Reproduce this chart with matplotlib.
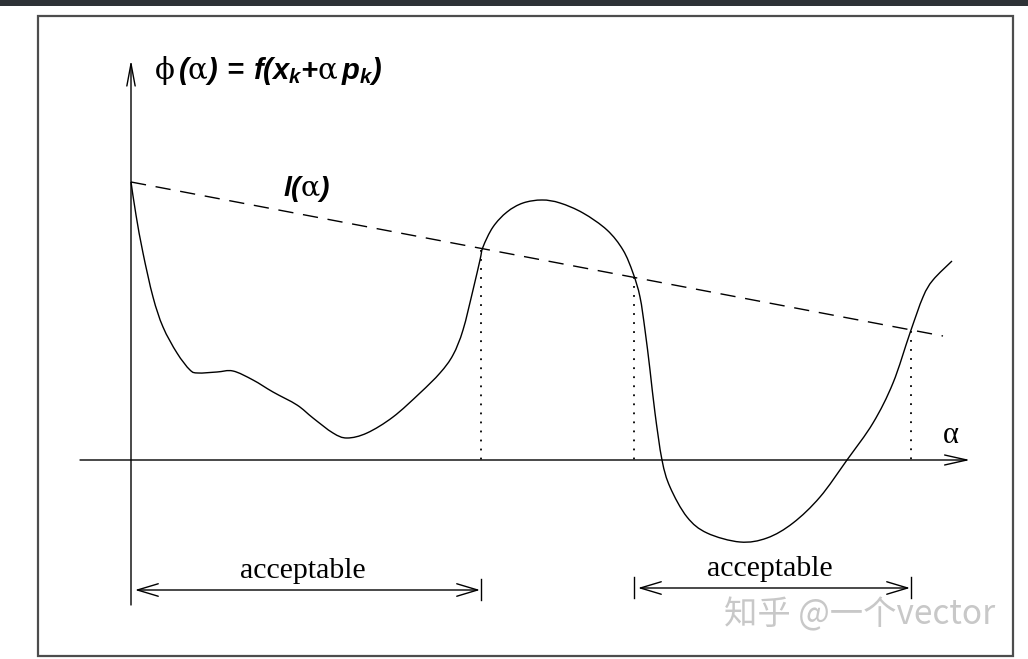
import matplotlib
matplotlib.use("Agg")
import matplotlib.pyplot as plt
from matplotlib.patches import Rectangle, PathPatch
from matplotlib.path import Path

# line-search sketch, everything in picture pixel units (x right, y down)
curve_x = [131, 136, 143, 153, 163, 177, 190, 198, 217, 233, 253, 273, 297, 313, 333, 347,
           367, 393, 420, 440, 453, 463, 473, 480, 483, 493, 507, 523, 542, 560, 583, 607,
           623, 633, 640, 645, 650, 655, 662, 670, 687, 707, 740, 767, 793, 820, 847, 873,
           893, 910, 923, 933, 952]
curve_y = [182, 215, 253, 297, 327, 353, 370, 373, 372, 371, 380, 392, 405, 418, 433, 438,
           433, 417, 393, 373, 355, 330, 290, 260, 247, 227, 212, 203, 200, 203, 213, 230,
           250, 273, 297, 330, 370, 413, 460, 487, 517, 533, 542, 538, 523, 497, 460, 423,
           383, 333, 297, 280, 261]

line_x = [131, 943]          # l(alpha), dashed
line_y = [182, 336]
cross_x = [481, 634, 911]    # where curve meets l(alpha)
cross_y = [250, 277, 331]
axis_y = 460
origin_x = 131
intervals = [(131, 481, 590), (634, 911, 588)]
interval_label = "acceptable"


def smooth_path(xs, ys):
    # draw a smooth curve through the read points (Catmull-Rom as cubic Bezier)
    pts = list(zip(xs, ys))
    verts = [pts[0]]
    codes = [Path.MOVETO]
    for i in range(len(pts) - 1):
        p0 = pts[i - 1] if i > 0 else pts[i]
        p1 = pts[i]
        p2 = pts[i + 1]
        p3 = pts[i + 2] if i + 2 < len(pts) else pts[i + 1]
        c1 = (p1[0] + (p2[0] - p0[0]) / 6, p1[1] + (p2[1] - p0[1]) / 6)
        c2 = (p2[0] - (p3[0] - p1[0]) / 6, p2[1] - (p3[1] - p1[1]) / 6)
        verts += [c1, c2, p2]
        codes += [Path.CURVE4] * 3
    return Path(verts, codes)


fig = plt.figure(figsize=(10.28, 6.59), dpi=100)
ax = fig.add_axes([0, 0, 1, 1])
ax.set_xlim(0, 1028)
ax.set_ylim(659, 0)
ax.axis("off")

# top dark strip and the frame
ax.add_patch(Rectangle((0, 0), 1028, 6, color="#2e3236", lw=0))
ax.add_patch(Rectangle((38, 16), 975, 640, fill=False, ec="#4d4d4d", lw=1.6))

# axes
ax.annotate("", xy=(970, axis_y), xytext=(80, axis_y),
            arrowprops=dict(arrowstyle="->,head_length=1.6,head_width=0.36", lw=1.0,
                            color="black", shrinkA=0, shrinkB=0))
ax.annotate("", xy=(origin_x, 60), xytext=(origin_x, 605),
            arrowprops=dict(arrowstyle="->,head_length=1.6,head_width=0.3", lw=1.0,
                            color="black", shrinkA=0, shrinkB=0))

ax.add_patch(PathPatch(smooth_path(curve_x, curve_y), fill=False, ec="black", lw=1.0))
ax.plot(line_x, line_y, color="black", lw=1.0, linestyle=(0, (11, 7)))
for cx, cy in zip(cross_x, cross_y):
    ax.plot([cx, cx], [cy, axis_y], color="black", lw=1.3, linestyle=(0, (1.0, 4.0)))

# acceptable intervals
for x0, x1, y in intervals:
    ax.annotate("", xy=(x1 - 1, y), xytext=(x0 + 4, y),
                arrowprops=dict(arrowstyle="<->,head_length=1.5,head_width=0.45", lw=1.0,
                                color="black", shrinkA=0, shrinkB=0))
    for xx in (x0, x1):
        if xx != origin_x:
            ax.plot([xx, xx], [y - 11, y + 10], color="black", lw=1.0)
    ax.text((x0 + x1) / 2 - 3, y - 12, interval_label, ha="center", va="baseline",
            family="Liberation Serif", fontsize=21.5)

# labels
plt.rcParams["mathtext.fontset"] = "custom"
plt.rcParams["mathtext.it"] = "Liberation Sans:bold:italic"
plt.rcParams["mathtext.bf"] = "Liberation Sans:bold:italic"
plt.rcParams["mathtext.rm"] = "DejaVu Serif"
ax.text(154, 79,
        r"$\mathrm{\phi}\,\mathbf{(}\mathrm{\alpha}\mathbf{)}\,\mathbf{=}\,"
        r"f\mathbf{(}x_k\mathbf{+}\mathrm{\alpha}\,p_k\mathbf{)}$",
        fontsize=21, va="baseline", ha="left")
ax.text(283, 196, r"$l\mathbf{(}\mathrm{\alpha}\mathbf{)}$", fontsize=20.5,
        va="baseline", ha="left")
ax.text(943, 443, "α", family="Liberation Serif", fontsize=22, va="baseline", ha="left")

# watermark
ax.text(860, 615, "知乎 @一个vector", family=["Noto Sans CJK SC", "DejaVu Sans"],
        fontsize=24, color="#c8c8c8", ha="center", va="center")

fig.savefig("out.png", dpi=100)
